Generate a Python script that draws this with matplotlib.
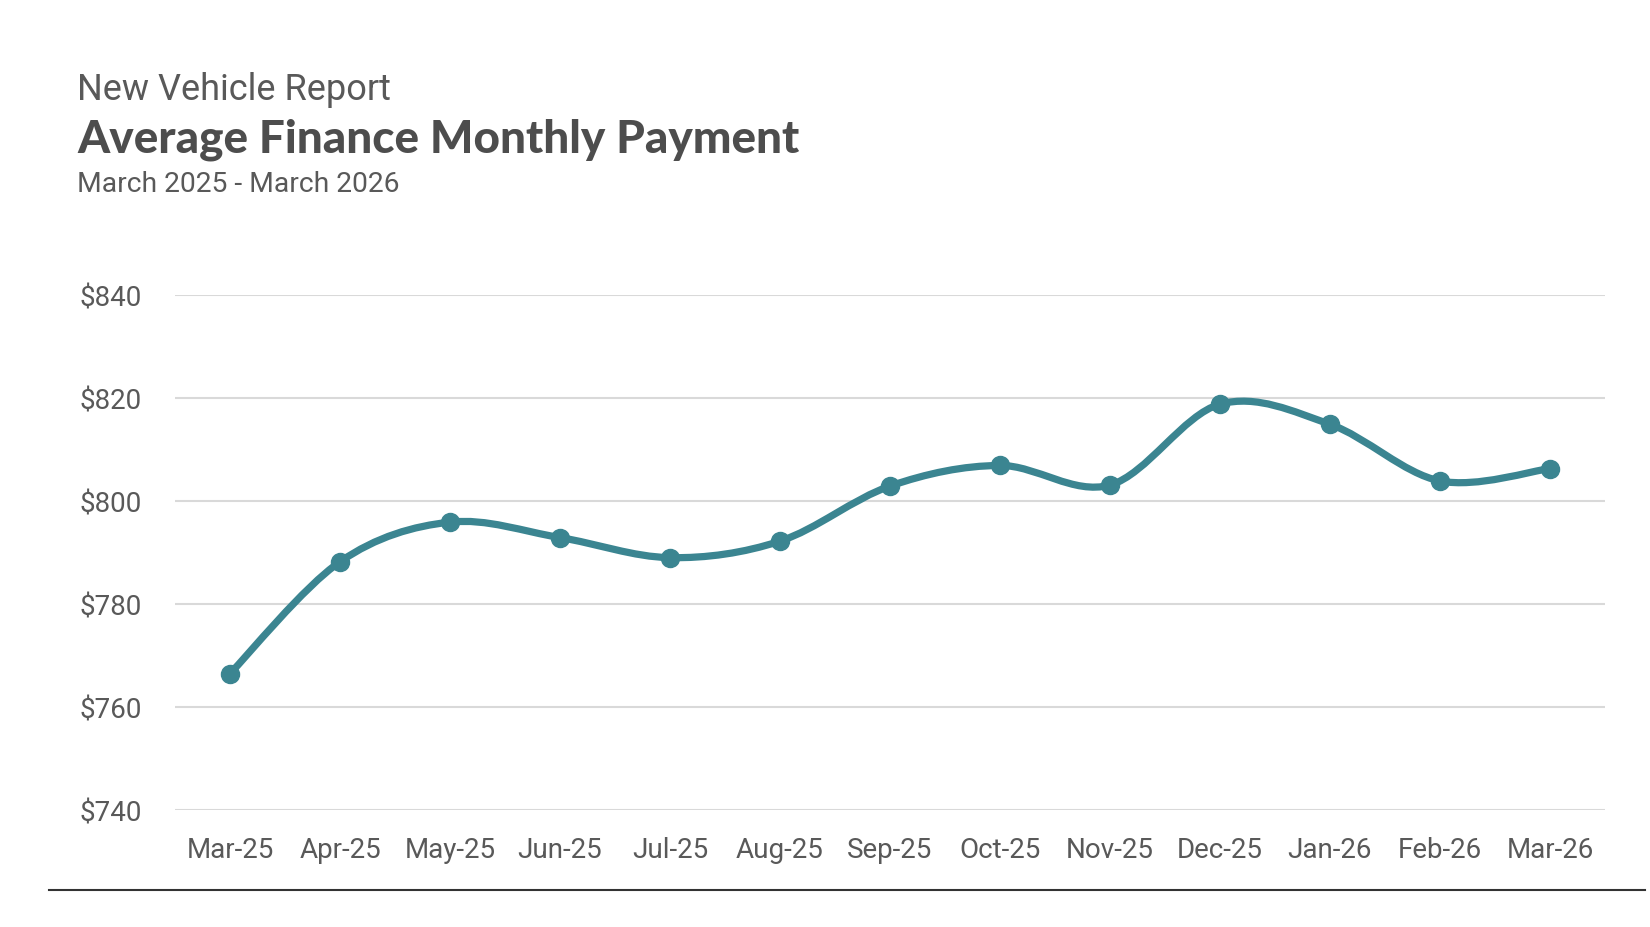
import matplotlib.pyplot as plt
import numpy as np
from matplotlib.path import Path
from matplotlib.patches import PathPatch

months = ['Mar-25', 'Apr-25', 'May-25', 'Jun-25', 'Jul-25', 'Aug-25', 'Sep-25',
          'Oct-25', 'Nov-25', 'Dec-25', 'Jan-26', 'Feb-26', 'Mar-26']
payment = [766.5, 788.2, 795.9, 792.9, 789.0, 792.2, 802.9,
           806.9, 803.1, 818.8, 814.9, 803.9, 806.3]
yticks = [740, 760, 780, 800, 820, 840]

teal = '#3b8591'
grey = '#595959'
plt.rcParams['font.family'] = ['Roboto', 'DejaVu Sans']

fig = plt.figure(figsize=(16.5, 9.28), dpi=100)
ax = fig.add_axes([175 / 1650, 1 - 811 / 928, 1430 / 1650, 515 / 928])

x = np.arange(len(months))
y = np.array(payment)

# smoothed line like excel (catmull-rom -> bezier)
verts = [(x[0], y[0])]
codes = [Path.MOVETO]
for i in range(len(x) - 1):
    p0 = np.array([x[max(i - 1, 0)], y[max(i - 1, 0)]])
    p1 = np.array([x[i], y[i]])
    p2 = np.array([x[i + 1], y[i + 1]])
    p3 = np.array([x[min(i + 2, len(x) - 1)], y[min(i + 2, len(x) - 1)]])
    c1 = p1 + (p2 - p0) / 6
    c2 = p2 - (p3 - p1) / 6
    verts += [tuple(c1), tuple(c2), tuple(p2)]
    codes += [Path.CURVE4] * 3
ax.add_patch(PathPatch(Path(verts, codes), fill=False, edgecolor=teal, lw=5.2,
                       capstyle='round', zorder=3))
ax.plot(x, y, 'o', color=teal, ms=13, zorder=4)

ax.set_xlim(-0.5, 12.5)
ax.set_ylim(740, 840)
ax.set_yticks(yticks)
ax.set_yticklabels(['$%d' % v for v in yticks])
ax.set_xticks(x)
ax.set_xticklabels(months)
ax.grid(axis='y', color='#d9d9d9', lw=1.5)
ax.set_axisbelow(True)
for s in ax.spines.values():
    s.set_visible(False)
ax.tick_params(length=0, labelsize=20, labelcolor=grey)
ax.tick_params(axis='y', pad=24)
ax.tick_params(axis='x', pad=19)

fig.text(77 / 1650, 1 - 90 / 928, 'New Vehicle Report', fontsize=26, color=grey, va='center')
fig.text(77 / 1650, 1 - 140 / 928, 'Average Finance Monthly Payment', fontsize=33,
         family=['Lato', 'DejaVu Sans'], fontweight='black', color='#4d4d4d', va='center')
fig.text(77 / 1650, 1 - 185 / 928, 'March 2025 - March 2026', fontsize=20.3, color=grey, va='center')

fig.add_artist(plt.Line2D([49 / 1650, 1645 / 1650], [1 - 891 / 928] * 2,
                          transform=fig.transFigure, color='#333333', lw=1.5))

plt.savefig('out.png')
